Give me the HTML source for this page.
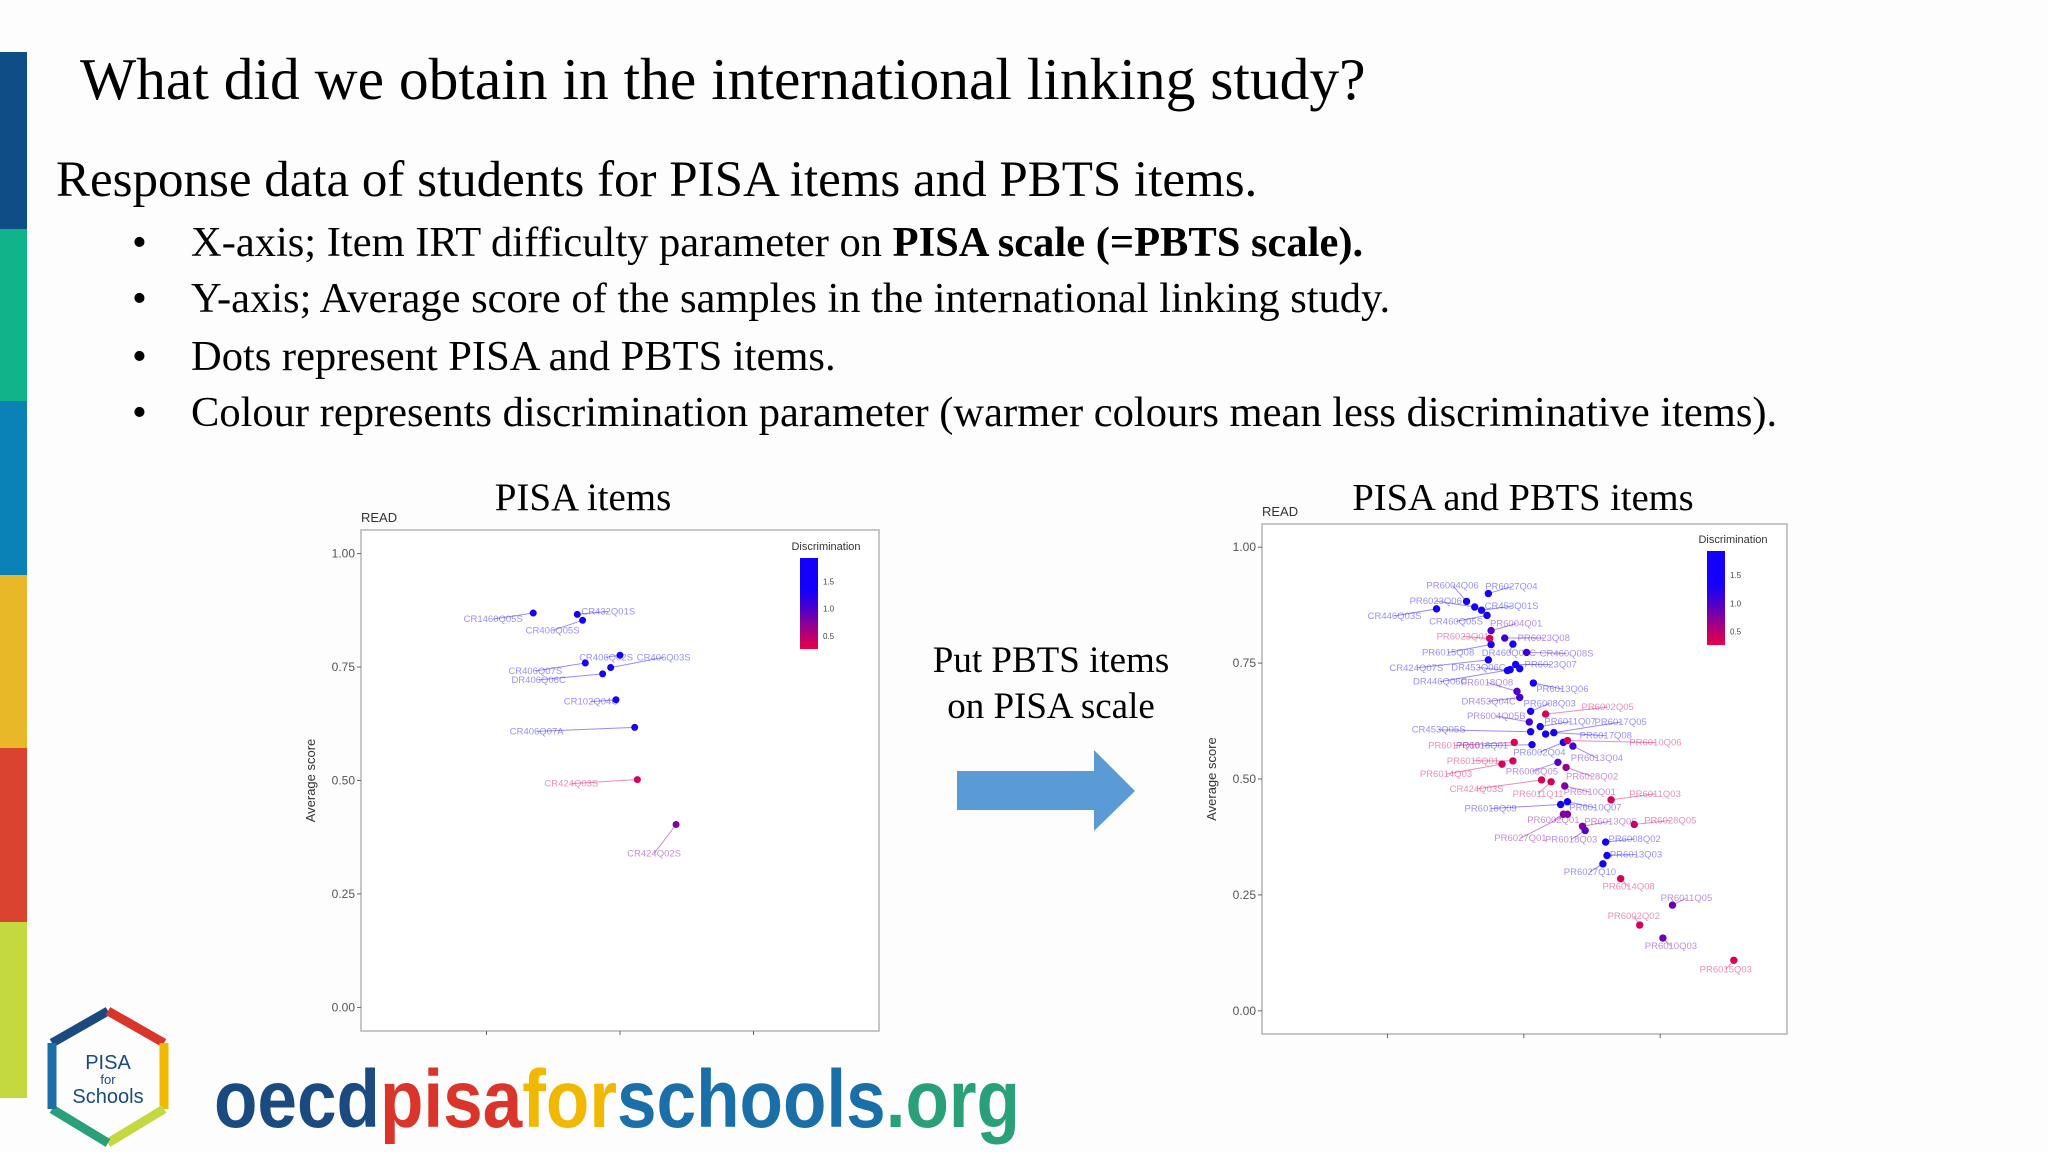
<!DOCTYPE html>
<html><head><meta charset="utf-8">
<style>
html,body{margin:0;padding:0;background:#fdfdfd;}
body{width:2048px;height:1152px;position:relative;overflow:hidden;font-family:"Liberation Serif",serif;color:#000;}
.abs{position:absolute;}
.seg{position:absolute;left:0;width:27px;}
.txt{position:absolute;white-space:nowrap;}
</style></head>
<body>
<div class="seg" style="top:52px;height:177px;background:#0f4d86"></div>
<div class="seg" style="top:229px;height:172px;background:#10b38a"></div>
<div class="seg" style="top:401px;height:174px;background:#0a82b8"></div>
<div class="seg" style="top:575px;height:173px;background:#e8b828"></div>
<div class="seg" style="top:748px;height:174px;background:#d94430"></div>
<div class="seg" style="top:922px;height:176px;background:#c4d840"></div>

<div class="txt" style="left:80px;top:44px;font-size:59.5px;line-height:70px;">What did we obtain in the international linking study?</div>
<div class="txt" style="left:56px;top:150px;font-size:51px;line-height:60px;">Response data of students for PISA items and PBTS items.</div>
<div>
<div class="txt" style="left:132px;top:218px;font-size:42.5px;line-height:50px;">•<span style="position:absolute;left:59px">X-axis; Item IRT difficulty parameter on <b>PISA scale (=PBTS scale).</b></span></div>
<div class="txt" style="left:132px;top:274px;font-size:42.5px;line-height:50px;">•<span style="position:absolute;left:59px">Y-axis; Average score of the samples in the international linking study.</span></div>
<div class="txt" style="left:132px;top:332px;font-size:42.5px;line-height:50px;">•<span style="position:absolute;left:59px">Dots represent PISA and PBTS items.</span></div>
<div class="txt" style="left:132px;top:388px;font-size:42.5px;line-height:50px;">•<span style="position:absolute;left:59px">Colour represents discrimination parameter (warmer colours mean less discriminative items).</span></div>
</div>

<div class="txt" style="left:583px;top:473px;font-size:39px;line-height:50px;transform:translateX(-50%);">PISA items</div>
<div class="txt" style="left:1523px;top:473px;font-size:38.5px;line-height:50px;transform:translateX(-50%);">PISA and PBTS items</div>
<div class="txt" style="left:1051px;top:638px;font-size:37px;line-height:46px;transform:translateX(-50%);text-align:center;">Put PBTS items<br>on PISA scale</div>
<svg class="abs" style="left:950px;top:745px" width="200" height="95">
<polygon points="7,26 144,26 144,5 185,46 144,86 144,65 7,65" fill="#5b9bd5"/>
</svg>

<svg id="chart" class="abs" style="left:0;top:0" width="2048" height="1152"></svg>

<svg class="abs" style="left:40px;top:1005px" width="140" height="147">
<polyline points="68,6 12,38" stroke="#1a4a80" stroke-width="9" fill="none"/>
<polyline points="68,6 124,38" stroke="#d9352a" stroke-width="9" fill="none"/>
<polyline points="124,38 124,104" stroke="#f0b800" stroke-width="9" fill="none"/>
<polyline points="124,104 68,138" stroke="#c4d840" stroke-width="9" fill="none"/>
<polyline points="68,138 12,104" stroke="#2aa07a" stroke-width="9" fill="none"/>
<polyline points="12,104 12,38" stroke="#1a6fa8" stroke-width="9" fill="none"/>
<text x="68" y="64" text-anchor="middle" font-family="Liberation Sans, sans-serif" font-size="20" fill="#1a4a80">PISA</text>
<text x="68" y="79" text-anchor="middle" font-family="Liberation Sans, sans-serif" font-size="13" fill="#1a4a80">for</text>
<text x="68" y="98" text-anchor="middle" font-family="Liberation Sans, sans-serif" font-size="20" fill="#1a4a80">Schools</text>
</svg>
<svg class="abs" style="left:200px;top:1050px" width="840" height="100">
<text x="14" y="77" font-family="Liberation Sans, sans-serif" font-weight="bold" font-size="82" textLength="806" lengthAdjust="spacingAndGlyphs"><tspan fill="#1a4a80">oecd</tspan><tspan fill="#d9352a">pisa</tspan><tspan fill="#f0b800">for</tspan><tspan fill="#1a6fa8">schools</tspan><tspan fill="#2aa07a">.org</tspan></text>
</svg>

<script>
// Left chart (PISA items)
const leftX = [-0.65,-0.32,-0.28,-0.26,0.0,-0.07,-0.13,-0.03,0.11,0.13,0.42];
const leftY = [0.869,0.866,0.853,0.759,0.776,0.749,0.735,0.678,0.617,0.502,0.403];
const leftDisc = [1.7,1.6,1.6,1.6,1.5,1.6,1.6,1.7,1.6,0.4,0.8];
const leftLabels = ['CR1460Q05S','CR432Q01S','CR406Q05S','CR406Q07S','CR406Q02S','CR406Q03S','DR406Q06C','CR102Q04C','CR406Q07A','CR424Q03S','CR424Q02S'];
const leftLabelDx = [-40,31,-30,-50,-14,53,-64,-25,-98,-66,-22];
const leftLabelDy = [6,-3,10,8,2,-10,6,2,4,4,29];

// Right chart (PISA and PBTS items)
const rightX = [-0.26,-0.42,-0.36,-0.31,-0.64,-0.27,-0.24,-0.25,-0.14,-0.24,-0.08,0.02,-0.26,-0.06,-0.03,-0.12,-0.10,0.07,-0.05,-0.03,0.05,0.16,0.04,0.12,0.05,0.16,0.22,-0.07,0.06,0.29,0.32,0.36,-0.08,-0.16,0.25,0.31,0.13,0.20,0.30,0.64,0.27,0.32,0.29,0.32,0.43,0.45,0.81,0.60,0.61,0.58,0.71,1.09,0.85,1.02,1.54];
const rightY = [0.900,0.883,0.871,0.864,0.867,0.853,0.820,0.803,0.804,0.790,0.791,0.773,0.757,0.747,0.738,0.734,0.736,0.707,0.689,0.676,0.646,0.640,0.623,0.613,0.602,0.597,0.600,0.579,0.574,0.579,0.583,0.571,0.539,0.532,0.536,0.525,0.498,0.494,0.485,0.455,0.445,0.451,0.424,0.424,0.398,0.389,0.402,0.364,0.335,0.317,0.285,0.228,0.185,0.157,0.109];
const rightDisc = [1.6,1.5,1.5,1.6,1.6,1.6,1.0,0.4,1.1,1.6,1.6,1.1,1.6,1.5,1.6,1.6,1.6,1.5,1.0,1.1,1.6,0.4,1.1,1.6,1.6,1.6,1.6,0.4,1.6,1.5,0.4,1.1,0.4,0.4,1.0,0.7,0.4,0.4,0.8,0.4,1.6,1.6,0.8,0.8,0.8,1.0,0.5,1.6,1.6,1.6,0.4,0.9,0.4,0.9,0.4];
const rightLabels = ['PR6027Q04','PR6004Q06','PR6023Q06','CR453Q01S','CR446Q03S','CR460Q05S','PR6004Q01','PR6023Q01','PR6023Q08','PR6015Q08','DR460Q06C','CR460Q08S','CR424Q07S','PR6023Q07','','DR453Q06C','DR446Q06C','PR6013Q06','PR6018Q08','DR453Q04C','PR6008Q03','PR6002Q05','PR6004Q05B','PR6011Q07','CR453Q05S','PR6017Q05','PR6017Q08','PR6017Q10','PR6018Q01','PR6002Q04','PR6010Q06','PR6013Q04','PR6015Q01','PR6014Q03','PR6008Q05','PR6028Q02','CR424Q03S','PR6011Q11','PR6010Q01','PR6011Q03','PR6018Q09','PR6010Q07','PR6002Q01','PR6027Q01','PR6013Q06','PR6018Q03','PR6028Q05','PR6008Q02','PR6013Q03','PR6027Q10','PR6014Q08','PR6011Q05','PR6002Q02','PR6010Q03','PR6015Q03'];
const rightLabelDx = [23,-14,-39,30,-42,-31,25,-27,39,-43,-4,40,-72,35,0,-29,-70,29,-30,-31,19,62,-33,30,-92,75,52,-60,-50,-24,88,24,-40,-56,-26,26,-65,-13,25,44,-70,28,-10,-47,28,-14,36,29,29,-13,8,14,-6,8,-8];
const rightLabelDy = [-7,-16,-6,-4,7,6,-7,-2,0,8,9,1,8,0,0,-3,12,6,-9,4,-8,-7,-6,-5,-2,-12,3,3,1,10,2,12,0,10,9,9,9,12,6,-6,4,6,6,24,-5,9,-4,-3,-1,8,8,-7,-9,8,9];

const yTicks = [0,0.25,0.5,0.75,1.0];
const yTickLabels = ['0.00','0.25','0.50','0.75','1.00'];
const xTicks = [-1,0,1];
const legendTicks = [0.5,1.0,1.5];
const legendTickLabels = ['0.5','1.0','1.5'];

const NS = 'http://www.w3.org/2000/svg';
const svg = document.getElementById('chart');
function mk(tag, attrs, parent){const e=document.createElementNS(NS,tag);for(const k in attrs)e.setAttribute(k,attrs[k]);(parent||svg).appendChild(e);return e;}

function discColor(d, a){
  let t=(d-0.3)/(1.3-0.3); t=Math.max(0,Math.min(1,t));
  const r=Math.round(235+(20-235)*t), g=0, b=Math.round(70+(250-70)*t);
  return 'rgba('+r+','+g+','+b+','+a+')';
}

function drawChart(cfg){
  const g=mk('g',{});
  
  
  const xs=v=>cfg.l+(v-cfg.x0)/(cfg.x1-cfg.x0)*(cfg.r-cfg.l);
  const ys=v=>cfg.b-(v-cfg.y0)/(cfg.y1-cfg.y0)*(cfg.b-cfg.t);
  const rd=mk('text',{x:cfg.l,y:cfg.t-8,'font-family':'Liberation Sans, sans-serif','font-size':13,fill:'#333'},g);
  rd.textContent='READ';
  
  
  const panel=mk('rect',{x:cfg.l,y:cfg.t,width:cfg.r-cfg.l,height:cfg.b-cfg.t,fill:'#fff',stroke:'#b8b8b8','stroke-width':1.6},g);
  
  
  yTicks.forEach((v,i)=>{
    const y=ys(v);
    mk('line',{x1:cfg.l-4,x2:cfg.l,y1:y,y2:y,stroke:'#666','stroke-width':1},g);
    const t=mk('text',{x:cfg.l-6,y:y+4,'text-anchor':'end','font-family':'Liberation Sans, sans-serif','font-size':12,fill:'#555'},g);
    t.textContent=yTickLabels[i];
    
    
  });
  xTicks.forEach(v=>{
    const x=xs(v);
    mk('line',{x1:x,x2:x,y1:cfg.b,y2:cfg.b+4,stroke:'#666','stroke-width':1},g);
  });
  const yt=mk('text',{x:0,y:0,transform:'translate('+(cfg.l-46)+','+((cfg.t+cfg.b)/2)+') rotate(-90)','text-anchor':'middle','font-family':'Liberation Sans, sans-serif','font-size':13,fill:'#333'},g);
  yt.textContent='Average score';
  
  
  cfg.X.forEach((xv,i)=>{
    const px=xs(xv), py=ys(cfg.Y[i]);
    const lx=px+cfg.dx[i], ly=py+cfg.dy[i];
    if(cfg.labels[i]){
      mk('line',{x1:px,y1:py,x2:lx,y2:ly,stroke:discColor(cfg.D[i],0.45),'stroke-width':1},g);
      const lt=mk('text',{x:lx,y:ly+3,'text-anchor':'middle','font-family':'Liberation Sans, sans-serif','font-size':9.5,fill:discColor(cfg.D[i],0.45)},g);
      lt.textContent=cfg.labels[i];
      
      
    }
  });
  cfg.X.forEach((xv,i)=>{
    const c=mk('circle',{cx:xs(xv),cy:ys(cfg.Y[i]),r:cfg.pr,fill:discColor(cfg.D[i],1)},g);
    
    
  });
  const L=cfg.leg;
  const gid='grad'+cfg.name;
  const defs=mk('defs',{},g);
  const lg=mk('linearGradient',{id:gid,x1:0,y1:1,x2:0,y2:0},defs);
  [[0,0.26],[0.25,0.7],[0.45,1.05],[0.65,1.35],[1,1.93]].forEach(s=>mk('stop',{offset:s[0],'stop-color':discColor(s[1],1)},lg));
  const lt=mk('text',{x:L.x+L.w/2+17,y:L.top-8,'text-anchor':'middle','font-family':'Liberation Sans, sans-serif','font-size':11,fill:'#333'},g);
  lt.textContent='Discrimination';
  
  
  const bar=mk('rect',{x:L.x,y:L.top,width:L.w,height:L.bot-L.top,fill:'url(#'+gid+')'},g);
  
  
  const ls=v=>L.bot-(v-L.v0)/(L.v1-L.v0)*(L.bot-L.top);
  legendTicks.forEach((v,i)=>{
    const t=mk('text',{x:L.x+L.w+5,y:ls(v)+3,'font-family':'Liberation Sans, sans-serif','font-size':8,fill:'#444'},g);
    t.textContent=legendTickLabels[i];
    
    
  });
}

drawChart({name:'pisa-items-chart',l:361,r:879,t:530,b:1031,x0:-1.94,x1:1.94,y0:-0.052,y1:1.052,
  X:leftX,Y:leftY,D:leftDisc,labels:leftLabels,dx:leftLabelDx,dy:leftLabelDy,pr:3.5,
  leg:{x:800,w:18,top:558,bot:649,v0:0.26,v1:1.93}});
drawChart({name:'pisa-pbts-items-chart',l:1262,r:1787,t:524,b:1034,x0:-1.92,x1:1.93,y0:-0.05,y1:1.05,
  X:rightX,Y:rightY,D:rightDisc,labels:rightLabels,dx:rightLabelDx,dy:rightLabelDy,pr:3.7,
  leg:{x:1707,w:18,top:551,bot:645,v0:0.26,v1:1.93}});
</script>
</body></html>
